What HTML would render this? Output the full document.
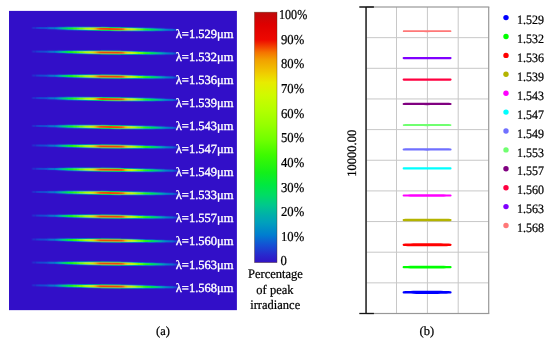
<!DOCTYPE html>
<html><head><meta charset="utf-8"><title>figure</title>
<style>
html,body{margin:0;padding:0;background:#fff;}
body{width:550px;height:344px;overflow:hidden;}
svg{display:block}
text{font-family:"Liberation Serif",serif;font-size:12.5px;stroke-width:0.22px;text-rendering:geometricPrecision;paint-order:stroke fill;}
</style></head><body>
<svg width="550" height="344" viewBox="0 0 550 344">
<defs>
<filter id="bl" x="-5%" y="-200%" width="110%" height="500%"><feGaussianBlur stdDeviation="0.5 0.25"/></filter>
<linearGradient id="cb" x1="0" x2="0" y1="0" y2="1">
<stop offset="0" stop-color="#be0a0a"/>
<stop offset="0.05" stop-color="#de0000"/>
<stop offset="0.11" stop-color="#ee0800"/>
<stop offset="0.135" stop-color="#f23c00"/>
<stop offset="0.16" stop-color="#f57300"/>
<stop offset="0.19" stop-color="#f2a000"/>
<stop offset="0.245" stop-color="#f0cd00"/>
<stop offset="0.28" stop-color="#e8eb00"/>
<stop offset="0.33" stop-color="#d0fa00"/>
<stop offset="0.39" stop-color="#b4ff00"/>
<stop offset="0.45" stop-color="#96ff00"/>
<stop offset="0.51" stop-color="#70ff00"/>
<stop offset="0.57" stop-color="#3efa00"/>
<stop offset="0.64" stop-color="#14f019"/>
<stop offset="0.69" stop-color="#00e841"/>
<stop offset="0.73" stop-color="#00dc64"/>
<stop offset="0.77" stop-color="#00c88c"/>
<stop offset="0.81" stop-color="#00afaa"/>
<stop offset="0.84" stop-color="#00a0bc"/>
<stop offset="0.89" stop-color="#007dd0"/>
<stop offset="0.93" stop-color="#1450d4"/>
<stop offset="0.97" stop-color="#2828cd"/>
<stop offset="1" stop-color="#3212c4"/>
</linearGradient>
<g id="st" filter="url(#bl)">
<path d="M31.4,0.00 32.0,-0.43 34.0,-0.73 36.0,-0.86 38.0,-0.91 40.0,-0.96 42.0,-1.00 44.0,-1.04 46.0,-1.09 48.0,-1.13 50.0,-1.17 52.0,-1.22 54.0,-1.27 56.0,-1.33 58.0,-1.39 60.0,-1.45 62.0,-1.52 64.0,-1.57 66.0,-1.62 68.0,-1.67 70.0,-1.71 72.0,-1.74 74.0,-1.77 76.0,-1.81 78.0,-1.84 80.0,-1.87 82.0,-1.90 84.0,-1.92 86.0,-1.95 88.0,-1.97 90.0,-2.00 92.0,-2.02 94.0,-2.05 96.0,-2.08 98.0,-2.10 100.0,-2.12 102.0,-2.13 104.0,-2.14 106.0,-2.14 108.0,-2.15 110.0,-2.15 112.0,-2.15 114.0,-2.14 116.0,-2.14 118.0,-2.14 120.0,-2.13 122.0,-2.12 124.0,-2.10 126.0,-2.07 128.0,-2.04 130.0,-2.02 132.0,-1.99 134.0,-1.96 136.0,-1.93 138.0,-1.89 140.0,-1.86 142.0,-1.82 144.0,-1.79 146.0,-1.76 148.0,-1.72 150.0,-1.68 152.0,-1.65 154.0,-1.61 156.0,-1.57 158.0,-1.53 160.0,-1.48 162.0,-1.43 164.0,-1.39 166.0,-1.34 168.0,-1.29 170.0,-1.25 172.0,-1.21 174.0,-1.12 176.0,-0.94 178.0,-0.38 178.4,0.00 178.0,0.38 176.0,0.94 174.0,1.12 172.0,1.21 170.0,1.25 168.0,1.29 166.0,1.34 164.0,1.39 162.0,1.43 160.0,1.48 158.0,1.53 156.0,1.57 154.0,1.61 152.0,1.65 150.0,1.68 148.0,1.72 146.0,1.76 144.0,1.79 142.0,1.82 140.0,1.86 138.0,1.89 136.0,1.93 134.0,1.96 132.0,1.99 130.0,2.02 128.0,2.04 126.0,2.07 124.0,2.10 122.0,2.12 120.0,2.13 118.0,2.14 116.0,2.14 114.0,2.14 112.0,2.15 110.0,2.15 108.0,2.15 106.0,2.14 104.0,2.14 102.0,2.13 100.0,2.12 98.0,2.10 96.0,2.08 94.0,2.05 92.0,2.02 90.0,2.00 88.0,1.97 86.0,1.95 84.0,1.92 82.0,1.90 80.0,1.87 78.0,1.84 76.0,1.81 74.0,1.77 72.0,1.74 70.0,1.71 68.0,1.67 66.0,1.62 64.0,1.57 62.0,1.52 60.0,1.45 58.0,1.39 56.0,1.33 54.0,1.27 52.0,1.22 50.0,1.17 48.0,1.13 46.0,1.09 44.0,1.04 42.0,1.00 40.0,0.96 38.0,0.91 36.0,0.86 34.0,0.73 32.0,0.43Z" fill="#2037d0"/>
<path d="M35.6,0.00 36.0,-0.19 38.0,-0.36 40.0,-0.47 42.0,-0.55 44.0,-0.62 46.0,-0.69 48.0,-0.76 50.0,-0.82 52.0,-0.88 54.0,-0.95 56.0,-1.02 58.0,-1.10 60.0,-1.18 62.0,-1.25 64.0,-1.31 66.0,-1.37 68.0,-1.42 70.0,-1.46 72.0,-1.50 74.0,-1.53 76.0,-1.57 78.0,-1.60 80.0,-1.63 82.0,-1.66 84.0,-1.69 86.0,-1.72 88.0,-1.74 90.0,-1.77 92.0,-1.79 94.0,-1.82 96.0,-1.85 98.0,-1.88 100.0,-1.89 102.0,-1.91 104.0,-1.91 106.0,-1.92 108.0,-1.92 110.0,-1.92 112.0,-1.92 114.0,-1.92 116.0,-1.91 118.0,-1.91 120.0,-1.90 122.0,-1.89 124.0,-1.87 126.0,-1.84 128.0,-1.82 130.0,-1.79 132.0,-1.76 134.0,-1.73 136.0,-1.70 138.0,-1.66 140.0,-1.62 142.0,-1.59 144.0,-1.55 146.0,-1.51 148.0,-1.48 150.0,-1.44 152.0,-1.39 154.0,-1.35 156.0,-1.31 158.0,-1.26 160.0,-1.21 162.0,-1.15 164.0,-1.10 166.0,-1.04 168.0,-0.98 170.0,-0.92 172.0,-0.87 174.0,-0.74 176.0,-0.44 176.7,0.00 176.0,0.44 174.0,0.74 172.0,0.87 170.0,0.92 168.0,0.98 166.0,1.04 164.0,1.10 162.0,1.15 160.0,1.21 158.0,1.26 156.0,1.31 154.0,1.35 152.0,1.39 150.0,1.44 148.0,1.48 146.0,1.51 144.0,1.55 142.0,1.59 140.0,1.62 138.0,1.66 136.0,1.70 134.0,1.73 132.0,1.76 130.0,1.79 128.0,1.82 126.0,1.84 124.0,1.87 122.0,1.89 120.0,1.90 118.0,1.91 116.0,1.91 114.0,1.92 112.0,1.92 110.0,1.92 108.0,1.92 106.0,1.92 104.0,1.91 102.0,1.91 100.0,1.89 98.0,1.88 96.0,1.85 94.0,1.82 92.0,1.79 90.0,1.77 88.0,1.74 86.0,1.72 84.0,1.69 82.0,1.66 80.0,1.63 78.0,1.60 76.0,1.57 74.0,1.53 72.0,1.50 70.0,1.46 68.0,1.42 66.0,1.37 64.0,1.31 62.0,1.25 60.0,1.18 58.0,1.10 56.0,1.02 54.0,0.95 52.0,0.88 50.0,0.82 48.0,0.76 46.0,0.69 44.0,0.62 42.0,0.55 40.0,0.47 38.0,0.36 36.0,0.19Z" fill="#0f5bd3"/>
<path d="M46.9,0.00 48.0,-0.23 50.0,-0.39 52.0,-0.51 54.0,-0.61 56.0,-0.72 58.0,-0.82 60.0,-0.92 62.0,-1.01 64.0,-1.08 66.0,-1.15 68.0,-1.20 70.0,-1.25 72.0,-1.29 74.0,-1.33 76.0,-1.37 78.0,-1.40 80.0,-1.44 82.0,-1.47 84.0,-1.50 86.0,-1.53 88.0,-1.55 90.0,-1.58 92.0,-1.60 94.0,-1.63 96.0,-1.66 98.0,-1.69 100.0,-1.71 102.0,-1.72 104.0,-1.73 106.0,-1.73 108.0,-1.73 110.0,-1.74 112.0,-1.73 114.0,-1.73 116.0,-1.73 118.0,-1.72 120.0,-1.72 122.0,-1.70 124.0,-1.68 126.0,-1.66 128.0,-1.63 130.0,-1.60 132.0,-1.57 134.0,-1.54 136.0,-1.50 138.0,-1.47 140.0,-1.43 142.0,-1.39 144.0,-1.35 146.0,-1.31 148.0,-1.27 150.0,-1.22 152.0,-1.18 154.0,-1.13 156.0,-1.08 158.0,-1.02 160.0,-0.96 162.0,-0.89 164.0,-0.82 166.0,-0.74 168.0,-0.66 170.0,-0.57 172.0,-0.48 174.0,-0.18 174.2,0.00 174.0,0.18 172.0,0.48 170.0,0.57 168.0,0.66 166.0,0.74 164.0,0.82 162.0,0.89 160.0,0.96 158.0,1.02 156.0,1.08 154.0,1.13 152.0,1.18 150.0,1.22 148.0,1.27 146.0,1.31 144.0,1.35 142.0,1.39 140.0,1.43 138.0,1.47 136.0,1.50 134.0,1.54 132.0,1.57 130.0,1.60 128.0,1.63 126.0,1.66 124.0,1.68 122.0,1.70 120.0,1.72 118.0,1.72 116.0,1.73 114.0,1.73 112.0,1.73 110.0,1.74 108.0,1.73 106.0,1.73 104.0,1.73 102.0,1.72 100.0,1.71 98.0,1.69 96.0,1.66 94.0,1.63 92.0,1.60 90.0,1.58 88.0,1.55 86.0,1.53 84.0,1.50 82.0,1.47 80.0,1.44 78.0,1.40 76.0,1.37 74.0,1.33 72.0,1.29 70.0,1.25 68.0,1.20 66.0,1.15 64.0,1.08 62.0,1.01 60.0,0.92 58.0,0.82 56.0,0.72 54.0,0.61 52.0,0.51 50.0,0.39 48.0,0.23Z" fill="#0088ca"/>
<path d="M54.6,0.00 56.0,-0.30 58.0,-0.49 60.0,-0.64 62.0,-0.76 64.0,-0.86 66.0,-0.93 68.0,-1.00 70.0,-1.05 72.0,-1.10 74.0,-1.14 76.0,-1.18 78.0,-1.22 80.0,-1.26 82.0,-1.29 84.0,-1.32 86.0,-1.35 88.0,-1.38 90.0,-1.41 92.0,-1.44 94.0,-1.47 96.0,-1.50 98.0,-1.52 100.0,-1.54 102.0,-1.56 104.0,-1.56 106.0,-1.57 108.0,-1.57 110.0,-1.57 112.0,-1.57 114.0,-1.57 116.0,-1.56 118.0,-1.56 120.0,-1.55 122.0,-1.54 124.0,-1.52 126.0,-1.49 128.0,-1.46 130.0,-1.43 132.0,-1.40 134.0,-1.37 136.0,-1.33 138.0,-1.29 140.0,-1.25 142.0,-1.21 144.0,-1.16 146.0,-1.12 148.0,-1.07 150.0,-1.02 152.0,-0.97 154.0,-0.91 156.0,-0.85 158.0,-0.78 160.0,-0.70 162.0,-0.60 164.0,-0.49 166.0,-0.35 168.0,-0.12 168.3,0.00 168.0,0.12 166.0,0.35 164.0,0.49 162.0,0.60 160.0,0.70 158.0,0.78 156.0,0.85 154.0,0.91 152.0,0.97 150.0,1.02 148.0,1.07 146.0,1.12 144.0,1.16 142.0,1.21 140.0,1.25 138.0,1.29 136.0,1.33 134.0,1.37 132.0,1.40 130.0,1.43 128.0,1.46 126.0,1.49 124.0,1.52 122.0,1.54 120.0,1.55 118.0,1.56 116.0,1.56 114.0,1.57 112.0,1.57 110.0,1.57 108.0,1.57 106.0,1.57 104.0,1.56 102.0,1.56 100.0,1.54 98.0,1.52 96.0,1.50 94.0,1.47 92.0,1.44 90.0,1.41 88.0,1.38 86.0,1.35 84.0,1.32 82.0,1.29 80.0,1.26 78.0,1.22 76.0,1.18 74.0,1.14 72.0,1.10 70.0,1.05 68.0,1.00 66.0,0.93 64.0,0.86 62.0,0.76 60.0,0.64 58.0,0.49 56.0,0.30Z" fill="#00a8b3"/>
<path d="M58.6,0.00 60.0,-0.33 62.0,-0.52 64.0,-0.65 66.0,-0.75 68.0,-0.82 70.0,-0.89 72.0,-0.94 74.0,-0.99 76.0,-1.03 78.0,-1.08 80.0,-1.11 82.0,-1.15 84.0,-1.19 86.0,-1.22 88.0,-1.25 90.0,-1.28 92.0,-1.30 94.0,-1.34 96.0,-1.37 98.0,-1.40 100.0,-1.42 102.0,-1.43 104.0,-1.44 106.0,-1.44 108.0,-1.44 110.0,-1.45 112.0,-1.45 114.0,-1.44 116.0,-1.44 118.0,-1.43 120.0,-1.42 122.0,-1.41 124.0,-1.39 126.0,-1.36 128.0,-1.33 130.0,-1.30 132.0,-1.27 134.0,-1.23 136.0,-1.19 138.0,-1.15 140.0,-1.11 142.0,-1.06 144.0,-1.01 146.0,-0.96 148.0,-0.91 150.0,-0.85 152.0,-0.79 154.0,-0.72 156.0,-0.64 158.0,-0.54 160.0,-0.43 162.0,-0.25 163.1,0.00 162.0,0.25 160.0,0.43 158.0,0.54 156.0,0.64 154.0,0.72 152.0,0.79 150.0,0.85 148.0,0.91 146.0,0.96 144.0,1.01 142.0,1.06 140.0,1.11 138.0,1.15 136.0,1.19 134.0,1.23 132.0,1.27 130.0,1.30 128.0,1.33 126.0,1.36 124.0,1.39 122.0,1.41 120.0,1.42 118.0,1.43 116.0,1.44 114.0,1.44 112.0,1.45 110.0,1.45 108.0,1.44 106.0,1.44 104.0,1.44 102.0,1.43 100.0,1.42 98.0,1.40 96.0,1.37 94.0,1.34 92.0,1.30 90.0,1.28 88.0,1.25 86.0,1.22 84.0,1.19 82.0,1.15 80.0,1.11 78.0,1.08 76.0,1.03 74.0,0.99 72.0,0.94 70.0,0.89 68.0,0.82 66.0,0.75 64.0,0.65 62.0,0.52 60.0,0.33Z" fill="#00c590"/>
<path d="M61.5,0.00 62.0,-0.19 64.0,-0.43 66.0,-0.56 68.0,-0.66 70.0,-0.73 72.0,-0.79 74.0,-0.85 76.0,-0.90 78.0,-0.95 80.0,-0.99 82.0,-1.03 84.0,-1.07 86.0,-1.10 88.0,-1.13 90.0,-1.16 92.0,-1.19 94.0,-1.22 96.0,-1.26 98.0,-1.29 100.0,-1.31 102.0,-1.32 104.0,-1.33 106.0,-1.33 108.0,-1.34 110.0,-1.34 112.0,-1.34 114.0,-1.33 116.0,-1.33 118.0,-1.33 120.0,-1.32 122.0,-1.30 124.0,-1.28 126.0,-1.25 128.0,-1.22 130.0,-1.19 132.0,-1.15 134.0,-1.11 136.0,-1.07 138.0,-1.03 140.0,-0.98 142.0,-0.93 144.0,-0.88 146.0,-0.82 148.0,-0.76 150.0,-0.69 152.0,-0.61 154.0,-0.52 156.0,-0.41 158.0,-0.24 159.0,0.00 158.0,0.24 156.0,0.41 154.0,0.52 152.0,0.61 150.0,0.69 148.0,0.76 146.0,0.82 144.0,0.88 142.0,0.93 140.0,0.98 138.0,1.03 136.0,1.07 134.0,1.11 132.0,1.15 130.0,1.19 128.0,1.22 126.0,1.25 124.0,1.28 122.0,1.30 120.0,1.32 118.0,1.33 116.0,1.33 114.0,1.33 112.0,1.34 110.0,1.34 108.0,1.34 106.0,1.33 104.0,1.33 102.0,1.32 100.0,1.31 98.0,1.29 96.0,1.26 94.0,1.22 92.0,1.19 90.0,1.16 88.0,1.13 86.0,1.10 84.0,1.07 82.0,1.03 80.0,0.99 78.0,0.95 76.0,0.90 74.0,0.85 72.0,0.79 70.0,0.73 68.0,0.66 66.0,0.56 64.0,0.43 62.0,0.19Z" fill="#00de60"/>
<path d="M64.2,0.00 66.0,-0.34 68.0,-0.48 70.0,-0.57 72.0,-0.65 74.0,-0.72 76.0,-0.77 78.0,-0.83 80.0,-0.87 82.0,-0.92 84.0,-0.96 86.0,-0.99 88.0,-1.03 90.0,-1.06 92.0,-1.09 94.0,-1.13 96.0,-1.16 98.0,-1.19 100.0,-1.21 102.0,-1.23 104.0,-1.23 106.0,-1.24 108.0,-1.24 110.0,-1.25 112.0,-1.24 114.0,-1.24 116.0,-1.24 118.0,-1.23 120.0,-1.22 122.0,-1.21 124.0,-1.18 126.0,-1.15 128.0,-1.12 130.0,-1.09 132.0,-1.05 134.0,-1.01 136.0,-0.96 138.0,-0.92 140.0,-0.86 142.0,-0.81 144.0,-0.75 146.0,-0.68 148.0,-0.61 150.0,-0.52 152.0,-0.41 154.0,-0.27 155.4,0.00 154.0,0.27 152.0,0.41 150.0,0.52 148.0,0.61 146.0,0.68 144.0,0.75 142.0,0.81 140.0,0.86 138.0,0.92 136.0,0.96 134.0,1.01 132.0,1.05 130.0,1.09 128.0,1.12 126.0,1.15 124.0,1.18 122.0,1.21 120.0,1.22 118.0,1.23 116.0,1.24 114.0,1.24 112.0,1.24 110.0,1.25 108.0,1.24 106.0,1.24 104.0,1.23 102.0,1.23 100.0,1.21 98.0,1.19 96.0,1.16 94.0,1.13 92.0,1.09 90.0,1.06 88.0,1.03 86.0,0.99 84.0,0.96 82.0,0.92 80.0,0.87 78.0,0.83 76.0,0.77 74.0,0.72 72.0,0.65 70.0,0.57 68.0,0.48 66.0,0.34Z" fill="#06ea35"/>
<path d="M67.0,0.00 68.0,-0.24 70.0,-0.40 72.0,-0.50 74.0,-0.58 76.0,-0.65 78.0,-0.71 80.0,-0.76 82.0,-0.81 84.0,-0.86 86.0,-0.89 88.0,-0.93 90.0,-0.96 92.0,-1.00 94.0,-1.03 96.0,-1.07 98.0,-1.10 100.0,-1.13 102.0,-1.14 104.0,-1.15 106.0,-1.15 108.0,-1.16 110.0,-1.16 112.0,-1.16 114.0,-1.16 116.0,-1.15 118.0,-1.15 120.0,-1.14 122.0,-1.12 124.0,-1.10 126.0,-1.06 128.0,-1.03 130.0,-0.99 132.0,-0.95 134.0,-0.91 136.0,-0.86 138.0,-0.81 140.0,-0.75 142.0,-0.69 144.0,-0.62 146.0,-0.54 148.0,-0.44 150.0,-0.31 152.0,-0.04 152.0,0.00 152.0,0.04 150.0,0.31 148.0,0.44 146.0,0.54 144.0,0.62 142.0,0.69 140.0,0.75 138.0,0.81 136.0,0.86 134.0,0.91 132.0,0.95 130.0,0.99 128.0,1.03 126.0,1.06 124.0,1.10 122.0,1.12 120.0,1.14 118.0,1.15 116.0,1.15 114.0,1.16 112.0,1.16 110.0,1.16 108.0,1.16 106.0,1.15 104.0,1.15 102.0,1.14 100.0,1.13 98.0,1.10 96.0,1.07 94.0,1.03 92.0,1.00 90.0,0.96 88.0,0.93 86.0,0.89 84.0,0.86 82.0,0.81 80.0,0.76 78.0,0.71 76.0,0.65 74.0,0.58 72.0,0.50 70.0,0.40 68.0,0.24Z" fill="#1df214"/>
<path d="M69.8,0.00 70.0,-0.09 72.0,-0.32 74.0,-0.43 76.0,-0.52 78.0,-0.59 80.0,-0.65 82.0,-0.71 84.0,-0.76 86.0,-0.80 88.0,-0.84 90.0,-0.87 92.0,-0.91 94.0,-0.95 96.0,-0.99 98.0,-1.02 100.0,-1.05 102.0,-1.06 104.0,-1.07 106.0,-1.08 108.0,-1.08 110.0,-1.08 112.0,-1.08 114.0,-1.08 116.0,-1.07 118.0,-1.07 120.0,-1.06 122.0,-1.04 124.0,-1.01 126.0,-0.98 128.0,-0.94 130.0,-0.91 132.0,-0.86 134.0,-0.82 136.0,-0.76 138.0,-0.70 140.0,-0.64 142.0,-0.56 144.0,-0.48 146.0,-0.37 148.0,-0.21 149.0,0.00 148.0,0.21 146.0,0.37 144.0,0.48 142.0,0.56 140.0,0.64 138.0,0.70 136.0,0.76 134.0,0.82 132.0,0.86 130.0,0.91 128.0,0.94 126.0,0.98 124.0,1.01 122.0,1.04 120.0,1.06 118.0,1.07 116.0,1.07 114.0,1.08 112.0,1.08 110.0,1.08 108.0,1.08 106.0,1.08 104.0,1.07 102.0,1.06 100.0,1.05 98.0,1.02 96.0,0.99 94.0,0.95 92.0,0.91 90.0,0.87 88.0,0.84 86.0,0.80 84.0,0.76 82.0,0.71 80.0,0.65 78.0,0.59 76.0,0.52 74.0,0.43 72.0,0.32 70.0,0.09Z" fill="#3bf902"/>
<path d="M72.8,0.00 74.0,-0.22 76.0,-0.36 78.0,-0.46 80.0,-0.53 82.0,-0.60 84.0,-0.65 86.0,-0.70 88.0,-0.75 90.0,-0.79 92.0,-0.83 94.0,-0.87 96.0,-0.91 98.0,-0.94 100.0,-0.97 102.0,-0.99 104.0,-0.99 106.0,-1.00 108.0,-1.00 110.0,-1.01 112.0,-1.01 114.0,-1.00 116.0,-1.00 118.0,-0.99 120.0,-0.98 122.0,-0.96 124.0,-0.93 126.0,-0.90 128.0,-0.86 130.0,-0.82 132.0,-0.77 134.0,-0.72 136.0,-0.66 138.0,-0.59 140.0,-0.52 142.0,-0.42 144.0,-0.30 146.0,-0.05 146.1,0.00 146.0,0.05 144.0,0.30 142.0,0.42 140.0,0.52 138.0,0.59 136.0,0.66 134.0,0.72 132.0,0.77 130.0,0.82 128.0,0.86 126.0,0.90 124.0,0.93 122.0,0.96 120.0,0.98 118.0,0.99 116.0,1.00 114.0,1.00 112.0,1.01 110.0,1.01 108.0,1.00 106.0,1.00 104.0,0.99 102.0,0.99 100.0,0.97 98.0,0.94 96.0,0.91 94.0,0.87 92.0,0.83 90.0,0.79 88.0,0.75 86.0,0.70 84.0,0.65 82.0,0.60 80.0,0.53 78.0,0.46 76.0,0.36 74.0,0.22Z" fill="#63fe00"/>
<path d="M75.8,0.00 76.0,-0.09 78.0,-0.29 80.0,-0.40 82.0,-0.48 84.0,-0.55 86.0,-0.60 88.0,-0.65 90.0,-0.70 92.0,-0.74 94.0,-0.79 96.0,-0.83 98.0,-0.87 100.0,-0.90 102.0,-0.91 104.0,-0.92 106.0,-0.93 108.0,-0.93 110.0,-0.93 112.0,-0.93 114.0,-0.93 116.0,-0.92 118.0,-0.92 120.0,-0.91 122.0,-0.89 124.0,-0.86 126.0,-0.82 128.0,-0.78 130.0,-0.73 132.0,-0.68 134.0,-0.63 136.0,-0.56 138.0,-0.48 140.0,-0.38 142.0,-0.24 143.3,0.00 142.0,0.24 140.0,0.38 138.0,0.48 136.0,0.56 134.0,0.63 132.0,0.68 130.0,0.73 128.0,0.78 126.0,0.82 124.0,0.86 122.0,0.89 120.0,0.91 118.0,0.92 116.0,0.92 114.0,0.93 112.0,0.93 110.0,0.93 108.0,0.93 106.0,0.93 104.0,0.92 102.0,0.91 100.0,0.90 98.0,0.87 96.0,0.83 94.0,0.79 92.0,0.74 90.0,0.70 88.0,0.65 86.0,0.60 84.0,0.55 82.0,0.48 80.0,0.40 78.0,0.29 76.0,0.09Z" fill="#86ff00"/>
<path d="M78.7,0.00 80.0,-0.22 82.0,-0.34 84.0,-0.43 86.0,-0.50 88.0,-0.56 90.0,-0.61 92.0,-0.66 94.0,-0.70 96.0,-0.75 98.0,-0.79 100.0,-0.82 102.0,-0.84 104.0,-0.85 106.0,-0.86 108.0,-0.86 110.0,-0.86 112.0,-0.86 114.0,-0.86 116.0,-0.85 118.0,-0.84 120.0,-0.83 122.0,-0.81 124.0,-0.78 126.0,-0.74 128.0,-0.70 130.0,-0.65 132.0,-0.59 134.0,-0.53 136.0,-0.44 138.0,-0.34 140.0,-0.17 140.7,0.00 140.0,0.17 138.0,0.34 136.0,0.44 134.0,0.53 132.0,0.59 130.0,0.65 128.0,0.70 126.0,0.74 124.0,0.78 122.0,0.81 120.0,0.83 118.0,0.84 116.0,0.85 114.0,0.86 112.0,0.86 110.0,0.86 108.0,0.86 106.0,0.86 104.0,0.85 102.0,0.84 100.0,0.82 98.0,0.79 96.0,0.75 94.0,0.70 92.0,0.66 90.0,0.61 88.0,0.56 86.0,0.50 84.0,0.43 82.0,0.34 80.0,0.22Z" fill="#a2ff00"/>
<path d="M81.6,0.00 82.0,-0.12 84.0,-0.28 86.0,-0.38 88.0,-0.45 90.0,-0.51 92.0,-0.57 94.0,-0.62 96.0,-0.67 98.0,-0.72 100.0,-0.75 102.0,-0.77 104.0,-0.78 106.0,-0.79 108.0,-0.79 110.0,-0.79 112.0,-0.79 114.0,-0.79 116.0,-0.78 118.0,-0.77 120.0,-0.76 122.0,-0.74 124.0,-0.71 126.0,-0.66 128.0,-0.61 130.0,-0.56 132.0,-0.49 134.0,-0.41 136.0,-0.30 138.0,-0.10 138.3,0.00 138.0,0.10 136.0,0.30 134.0,0.41 132.0,0.49 130.0,0.56 128.0,0.61 126.0,0.66 124.0,0.71 122.0,0.74 120.0,0.76 118.0,0.77 116.0,0.78 114.0,0.79 112.0,0.79 110.0,0.79 108.0,0.79 106.0,0.79 104.0,0.78 102.0,0.77 100.0,0.75 98.0,0.72 96.0,0.67 94.0,0.62 92.0,0.57 90.0,0.51 88.0,0.45 86.0,0.38 84.0,0.28 82.0,0.12Z" fill="#bbfe00"/>
<path d="M84.5,0.00 86.0,-0.21 88.0,-0.32 90.0,-0.40 92.0,-0.47 94.0,-0.53 96.0,-0.59 98.0,-0.64 100.0,-0.68 102.0,-0.70 104.0,-0.71 106.0,-0.72 108.0,-0.72 110.0,-0.72 112.0,-0.72 114.0,-0.72 116.0,-0.71 118.0,-0.70 120.0,-0.69 122.0,-0.67 124.0,-0.63 126.0,-0.58 128.0,-0.52 130.0,-0.46 132.0,-0.38 134.0,-0.27 135.9,0.00 134.0,0.27 132.0,0.38 130.0,0.46 128.0,0.52 126.0,0.58 124.0,0.63 122.0,0.67 120.0,0.69 118.0,0.70 116.0,0.71 114.0,0.72 112.0,0.72 110.0,0.72 108.0,0.72 106.0,0.72 104.0,0.71 102.0,0.70 100.0,0.68 98.0,0.64 96.0,0.59 94.0,0.53 92.0,0.47 90.0,0.40 88.0,0.32 86.0,0.21Z" fill="#d2f800"/>
<path d="M87.6,0.00 88.0,-0.11 90.0,-0.26 92.0,-0.36 94.0,-0.44 96.0,-0.51 98.0,-0.56 100.0,-0.60 102.0,-0.62 104.0,-0.63 106.0,-0.64 108.0,-0.65 110.0,-0.65 112.0,-0.65 114.0,-0.64 116.0,-0.64 118.0,-0.63 120.0,-0.61 122.0,-0.59 124.0,-0.55 126.0,-0.49 128.0,-0.42 130.0,-0.34 132.0,-0.23 133.5,0.00 132.0,0.23 130.0,0.34 128.0,0.42 126.0,0.49 124.0,0.55 122.0,0.59 120.0,0.61 118.0,0.63 116.0,0.64 114.0,0.64 112.0,0.65 110.0,0.65 108.0,0.65 106.0,0.64 104.0,0.63 102.0,0.62 100.0,0.60 98.0,0.56 96.0,0.51 94.0,0.44 92.0,0.36 90.0,0.26 88.0,0.11Z" fill="#e9e700"/>
<path d="M90.6,0.00 92.0,-0.20 94.0,-0.32 96.0,-0.41 98.0,-0.48 100.0,-0.52 102.0,-0.54 104.0,-0.56 106.0,-0.57 108.0,-0.57 110.0,-0.58 112.0,-0.58 114.0,-0.57 116.0,-0.56 118.0,-0.55 120.0,-0.54 122.0,-0.51 124.0,-0.46 126.0,-0.39 128.0,-0.30 130.0,-0.17 130.9,0.00 130.0,0.17 128.0,0.30 126.0,0.39 124.0,0.46 122.0,0.51 120.0,0.54 118.0,0.55 116.0,0.56 114.0,0.57 112.0,0.58 110.0,0.58 108.0,0.57 106.0,0.57 104.0,0.56 102.0,0.54 100.0,0.52 98.0,0.48 96.0,0.41 94.0,0.32 92.0,0.20Z" fill="#f1bd00"/>
<path d="M93.4,0.00 94.0,-0.14 96.0,-0.29 98.0,-0.38 100.0,-0.43 102.0,-0.46 104.0,-0.47 106.0,-0.49 108.0,-0.49 110.0,-0.50 112.0,-0.49 114.0,-0.49 116.0,-0.48 118.0,-0.47 120.0,-0.45 122.0,-0.42 124.0,-0.36 126.0,-0.27 128.0,-0.10 128.3,0.00 128.0,0.10 126.0,0.27 124.0,0.36 122.0,0.42 120.0,0.45 118.0,0.47 116.0,0.48 114.0,0.49 112.0,0.49 110.0,0.50 108.0,0.49 106.0,0.49 104.0,0.47 102.0,0.46 100.0,0.43 98.0,0.38 96.0,0.29 94.0,0.14Z" fill="#f39100"/>
<path d="M95.3,0.00 96.0,-0.14 98.0,-0.28 100.0,-0.35 102.0,-0.38 104.0,-0.40 106.0,-0.41 108.0,-0.42 110.0,-0.43 112.0,-0.42 114.0,-0.42 116.0,-0.40 118.0,-0.39 120.0,-0.37 122.0,-0.33 124.0,-0.25 126.0,-0.09 126.3,0.00 126.0,0.09 124.0,0.25 122.0,0.33 120.0,0.37 118.0,0.39 116.0,0.40 114.0,0.42 112.0,0.42 110.0,0.43 108.0,0.42 106.0,0.41 104.0,0.40 102.0,0.38 100.0,0.35 98.0,0.28 96.0,0.14Z" fill="#f35200"/>
<path d="M96.9,0.00 98.0,-0.18 100.0,-0.27 102.0,-0.32 104.0,-0.34 106.0,-0.35 108.0,-0.36 110.0,-0.37 112.0,-0.37 114.0,-0.36 116.0,-0.34 118.0,-0.33 120.0,-0.30 122.0,-0.25 124.0,-0.13 124.6,0.00 124.0,0.13 122.0,0.25 120.0,0.30 118.0,0.33 116.0,0.34 114.0,0.36 112.0,0.37 110.0,0.37 108.0,0.36 106.0,0.35 104.0,0.34 102.0,0.32 100.0,0.27 98.0,0.18Z" fill="#ef1200"/>
<path d="M98.6,0.00 100.0,-0.17 102.0,-0.23 104.0,-0.26 106.0,-0.28 108.0,-0.30 110.0,-0.30 112.0,-0.30 114.0,-0.28 116.0,-0.27 118.0,-0.25 120.0,-0.22 122.0,-0.14 122.8,0.00 122.0,0.14 120.0,0.22 118.0,0.25 116.0,0.27 114.0,0.28 112.0,0.30 110.0,0.30 108.0,0.30 106.0,0.28 104.0,0.26 102.0,0.23 100.0,0.17Z" fill="#e60400"/>
</g>
</defs>
<rect x="0" y="0" width="550" height="344" fill="#fff"/>
<rect x="9" y="10.9" width="227.9" height="299.25" fill="#320fc8"/>

<use href="#st" transform="translate(0 29.00) rotate(0.8 110 0)"/>
<text transform="translate(175.80 37.55) scale(1 1.0)" fill="#fff" stroke="#fff" style="stroke-width:0.35px">λ=1.529μm</text>
<use href="#st" transform="translate(0 52.60) rotate(0.8 110 0)"/>
<text transform="translate(175.80 60.65) scale(1 1.0)" fill="#fff" stroke="#fff" style="stroke-width:0.35px">λ=1.532μm</text>
<use href="#st" transform="translate(0 76.60) rotate(0.8 110 0)"/>
<text transform="translate(175.80 83.75) scale(1 1.0)" fill="#fff" stroke="#fff" style="stroke-width:0.35px">λ=1.536μm</text>
<use href="#st" transform="translate(0 99.10) rotate(0.8 110 0)"/>
<text transform="translate(175.80 106.85) scale(1 1.0)" fill="#fff" stroke="#fff" style="stroke-width:0.35px">λ=1.539μm</text>
<use href="#st" transform="translate(0 127.00) rotate(0.8 110 0)"/>
<text transform="translate(175.80 129.95) scale(1 1.0)" fill="#fff" stroke="#fff" style="stroke-width:0.35px">λ=1.543μm</text>
<use href="#st" transform="translate(0 146.50) rotate(0.8 110 0)"/>
<text transform="translate(175.80 153.05) scale(1 1.0)" fill="#fff" stroke="#fff" style="stroke-width:0.35px">λ=1.547μm</text>
<use href="#st" transform="translate(0 169.80) rotate(0.8 110 0)"/>
<text transform="translate(175.80 176.15) scale(1 1.0)" fill="#fff" stroke="#fff" style="stroke-width:0.35px">λ=1.549μm</text>
<use href="#st" transform="translate(0 193.00) rotate(0.8 110 0)"/>
<text transform="translate(175.80 199.25) scale(1 1.0)" fill="#fff" stroke="#fff" style="stroke-width:0.35px">λ=1.533μm</text>
<use href="#st" transform="translate(0 216.60) rotate(0.8 110 0)"/>
<text transform="translate(175.80 222.35) scale(1 1.0)" fill="#fff" stroke="#fff" style="stroke-width:0.35px">λ=1.557μm</text>
<use href="#st" transform="translate(0 240.50) rotate(0.8 110 0)"/>
<text transform="translate(175.80 245.45) scale(1 1.0)" fill="#fff" stroke="#fff" style="stroke-width:0.35px">λ=1.560μm</text>
<use href="#st" transform="translate(0 263.60) rotate(0.8 110 0)"/>
<text transform="translate(175.80 268.55) scale(1 1.0)" fill="#fff" stroke="#fff" style="stroke-width:0.35px">λ=1.563μm</text>
<use href="#st" transform="translate(0 286.40) rotate(0.8 110 0)"/>
<text transform="translate(175.80 291.65) scale(1 1.0)" fill="#fff" stroke="#fff" style="stroke-width:0.35px">λ=1.568μm</text>
<rect x="254.5" y="12.2" width="22.5" height="250.4" fill="url(#cb)" stroke="#503010" stroke-opacity="0.55" stroke-width="0.7"/>
<text transform="translate(279.00 19.40) scale(1 1.12)" fill="#000" stroke="#000" style="font-size:12.1px">100%</text>
<text transform="translate(281.00 43.70) scale(1 1.07)" fill="#000" stroke="#000" style="font-size:12.7px">90%</text>
<text transform="translate(281.00 68.35) scale(1 1.07)" fill="#000" stroke="#000" style="font-size:12.7px">80%</text>
<text transform="translate(281.00 93.00) scale(1 1.07)" fill="#000" stroke="#000" style="font-size:12.7px">70%</text>
<text transform="translate(281.00 117.65) scale(1 1.07)" fill="#000" stroke="#000" style="font-size:12.7px">60%</text>
<text transform="translate(281.00 142.30) scale(1 1.07)" fill="#000" stroke="#000" style="font-size:12.7px">50%</text>
<text transform="translate(281.00 166.95) scale(1 1.07)" fill="#000" stroke="#000" style="font-size:12.7px">40%</text>
<text transform="translate(281.00 191.60) scale(1 1.07)" fill="#000" stroke="#000" style="font-size:12.7px">30%</text>
<text transform="translate(281.00 216.25) scale(1 1.07)" fill="#000" stroke="#000" style="font-size:12.7px">20%</text>
<text transform="translate(281.00 240.90) scale(1 1.07)" fill="#000" stroke="#000" style="font-size:12.7px">10%</text>
<text transform="translate(280.60 264.50) scale(1 1.07)" fill="#000" stroke="#000" style="font-size:12.7px">0</text>
<text transform="translate(275.50 278.30) scale(1 1.04)" text-anchor="middle" fill="#000" stroke="#000">Percentage</text>
<text transform="translate(274.90 293.50) scale(1 1.04)" text-anchor="middle" fill="#000" stroke="#000">of peak</text>
<text transform="translate(275.20 308.50) scale(1 1.04)" text-anchor="middle" fill="#000" stroke="#000">irradiance</text>
<text transform="translate(162.90 335.30) scale(1 1.0)" text-anchor="middle" fill="#000" stroke="#000">(a)</text>
<text transform="translate(426.80 335.30) scale(1 1.0)" text-anchor="middle" fill="#000" stroke="#000">(b)</text>
<rect x="396.00" y="7.0" width="1" height="306.5" fill="#c8c8c8"/>
<rect x="426.90" y="7.0" width="1" height="306.5" fill="#c8c8c8"/>
<rect x="457.70" y="7.0" width="1" height="306.5" fill="#c8c8c8"/>
<rect x="366.4" y="37.15" width="122.30000000000001" height="1" fill="#c8c8c8"/>
<rect x="366.4" y="67.80" width="122.30000000000001" height="1" fill="#c8c8c8"/>
<rect x="366.4" y="98.45" width="122.30000000000001" height="1" fill="#c8c8c8"/>
<rect x="366.4" y="129.10" width="122.30000000000001" height="1" fill="#c8c8c8"/>
<rect x="366.4" y="159.75" width="122.30000000000001" height="1" fill="#c8c8c8"/>
<rect x="366.4" y="190.40" width="122.30000000000001" height="1" fill="#c8c8c8"/>
<rect x="366.4" y="221.05" width="122.30000000000001" height="1" fill="#c8c8c8"/>
<rect x="366.4" y="251.70" width="122.30000000000001" height="1" fill="#c8c8c8"/>
<rect x="366.4" y="282.35" width="122.30000000000001" height="1" fill="#c8c8c8"/>
<rect x="366.4" y="6.4" width="122.9" height="1.2" fill="#989898"/>
<rect x="366.4" y="312.9" width="122.9" height="1.2" fill="#989898"/>
<rect x="488.09999999999997" y="7.0" width="1.2" height="306.5" fill="#989898"/>
<rect x="365.25" y="7.0" width="1.6" height="306.5" fill="#2a2a2a"/>
<rect x="359.3" y="6.25" width="14.6" height="1.5" fill="#151515"/>
<rect x="359.3" y="312.85" width="14.6" height="1.3" fill="#151515"/>
<path d="M403.7,291.30 C412,290.65 442,290.65 450.5,291.30 a1.1,1.1 0 0 1 0,2.20 C442,294.15 412,294.15 403.7,293.50 a1.1,1.1 0 0 1 0,-2.20z" fill="#0000ff"/>
<path d="M403.7,266.10 C412,265.75 442,265.75 450.5,266.10 a1.1,1.1 0 0 1 0,2.20 C442,268.65 412,268.65 403.7,268.30 a1.1,1.1 0 0 1 0,-2.20z" fill="#00ff00"/>
<path d="M403.7,243.70 C412,243.25 442,243.25 450.5,243.70 a1.1,1.1 0 0 1 0,2.20 C442,246.35 412,246.35 403.7,245.90 a1.1,1.1 0 0 1 0,-2.20z" fill="#ff0000"/>
<path d="M403.7,219.00 C412,218.80 442,218.80 450.5,219.00 a1.1,1.1 0 0 1 0,2.20 C442,221.40 412,221.40 403.7,221.20 a1.1,1.1 0 0 1 0,-2.20z" fill="#b4b400"/>
<path d="M403.7,194.40 C412,194.10 442,194.10 450.5,194.40 a1.1,1.1 0 0 1 0,2.20 C442,196.90 412,196.90 403.7,196.60 a1.1,1.1 0 0 1 0,-2.20z" fill="#ff00ff"/>
<path d="M403.7,167.35 C412,167.25 442,167.25 450.5,167.35 a1.05,1.05 0 0 1 0,2.10 C442,169.55 412,169.55 403.7,169.45 a1.05,1.05 0 0 1 0,-2.10z" fill="#00ffff"/>
<path d="M403.7,148.40 C412,148.25 442,148.25 450.5,148.40 a1.1,1.1 0 0 1 0,2.20 C442,150.75 412,150.75 403.7,150.60 a1.1,1.1 0 0 1 0,-2.20z" fill="#7070ff"/>
<path d="M403.7,124.15 C412,124.05 442,124.05 450.5,124.15 a0.95,0.95 0 0 1 0,1.90 C442,126.15 412,126.15 403.7,126.05 a0.95,0.95 0 0 1 0,-1.90z" fill="#70ff70"/>
<path d="M403.7,102.90 C412,102.75 442,102.75 450.5,102.90 a1.1,1.1 0 0 1 0,2.20 C442,105.25 412,105.25 403.7,105.10 a1.1,1.1 0 0 1 0,-2.20z" fill="#800080"/>
<path d="M403.7,78.50 C412,78.35 442,78.35 450.5,78.50 a1.1,1.1 0 0 1 0,2.20 C442,80.85 412,80.85 403.7,80.70 a1.1,1.1 0 0 1 0,-2.20z" fill="#ff0040"/>
<path d="M403.7,57.00 C412,56.85 442,56.85 450.5,57.00 a1.1,1.1 0 0 1 0,2.20 C442,59.35 412,59.35 403.7,59.20 a1.1,1.1 0 0 1 0,-2.20z" fill="#8000ff"/>
<path d="M403.7,30.30 C412,30.20 442,30.20 450.5,30.30 a0.9,0.9 0 0 1 0,1.80 C442,32.20 412,32.20 403.7,32.10 a0.9,0.9 0 0 1 0,-1.80z" fill="#ff7878"/>
<text transform="translate(356.0 153.2) rotate(-90) scale(1 1.03)" text-anchor="middle" fill="#000" stroke="#000">10000.00</text>
<circle cx="506" cy="17.60" r="2.7" fill="#0000ff"/>
<text transform="translate(517.10 24.20) scale(1 1.07)" fill="#000" stroke="#000" style="font-size:12.0px">1.529</text>
<circle cx="506" cy="36.50" r="2.7" fill="#00ff00"/>
<text transform="translate(517.10 43.10) scale(1 1.07)" fill="#000" stroke="#000" style="font-size:12.0px">1.532</text>
<circle cx="506" cy="55.40" r="2.7" fill="#ff0000"/>
<text transform="translate(517.10 62.00) scale(1 1.07)" fill="#000" stroke="#000" style="font-size:12.0px">1.536</text>
<circle cx="506" cy="74.30" r="2.7" fill="#b4b400"/>
<text transform="translate(517.10 80.90) scale(1 1.07)" fill="#000" stroke="#000" style="font-size:12.0px">1.539</text>
<circle cx="506" cy="93.20" r="2.7" fill="#ff00ff"/>
<text transform="translate(517.10 99.80) scale(1 1.07)" fill="#000" stroke="#000" style="font-size:12.0px">1.543</text>
<circle cx="506" cy="112.10" r="2.7" fill="#00ffff"/>
<text transform="translate(517.10 118.70) scale(1 1.07)" fill="#000" stroke="#000" style="font-size:12.0px">1.547</text>
<circle cx="506" cy="131.00" r="2.7" fill="#7070ff"/>
<text transform="translate(517.10 137.60) scale(1 1.07)" fill="#000" stroke="#000" style="font-size:12.0px">1.549</text>
<circle cx="506" cy="149.90" r="2.7" fill="#70ff70"/>
<text transform="translate(517.10 156.50) scale(1 1.07)" fill="#000" stroke="#000" style="font-size:12.0px">1.553</text>
<circle cx="506" cy="168.80" r="2.7" fill="#800080"/>
<text transform="translate(517.10 175.40) scale(1 1.07)" fill="#000" stroke="#000" style="font-size:12.0px">1.557</text>
<circle cx="506" cy="187.70" r="2.7" fill="#ff0040"/>
<text transform="translate(517.10 194.30) scale(1 1.07)" fill="#000" stroke="#000" style="font-size:12.0px">1.560</text>
<circle cx="506" cy="206.60" r="2.7" fill="#8000ff"/>
<text transform="translate(517.10 213.20) scale(1 1.07)" fill="#000" stroke="#000" style="font-size:12.0px">1.563</text>
<circle cx="506" cy="225.50" r="2.7" fill="#ff7878"/>
<text transform="translate(517.10 232.10) scale(1 1.07)" fill="#000" stroke="#000" style="font-size:12.0px">1.568</text>
</svg></body></html>
